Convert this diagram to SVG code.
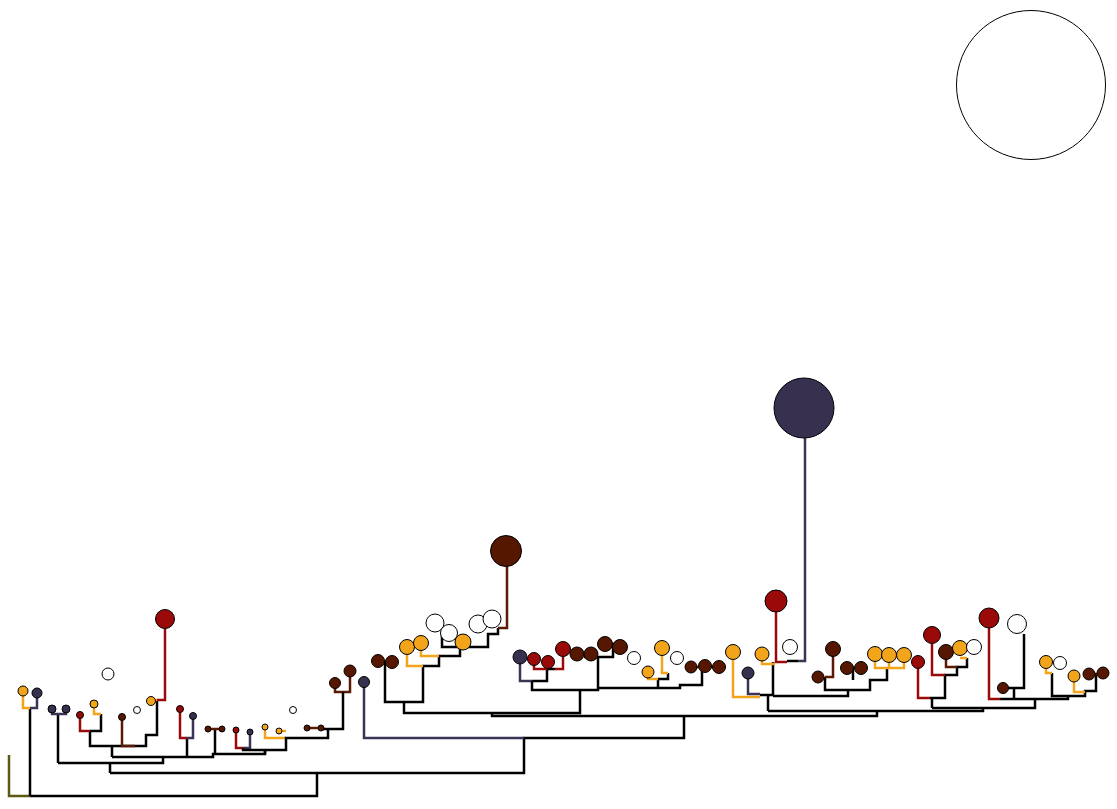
<svg xmlns="http://www.w3.org/2000/svg" width="1117" height="809" viewBox="0 0 1117 809">
<style>
.k{fill:none;stroke:#000;stroke-width:2.5}
.o{fill:none;stroke:#f2a51a;stroke-width:2.5}
.n{fill:none;stroke:#3b3454;stroke-width:2.5}
.r{fill:none;stroke:#990a08;stroke-width:2.5}
.b{fill:none;stroke:#5a1a05;stroke-width:2.5}
.v{fill:none;stroke:#5c5a12;stroke-width:2.5}
circle{stroke:#000;stroke-width:1}
.co{fill:#f2a51a}.cn{fill:#37304f}.cr{fill:#990a08}.cb{fill:#561700}.cw{fill:#fff}
</style>
<rect width="1117" height="809" fill="#fff"/>
<g id="connectors">
<path class="v" d="M9,755V796H30"/>
<path class="k" d="M30,796H317V773M30,796V708M110,773H524V738H684V716M110,773V763M58,763H163V757M58,714V763"/>
<path class="o" d="M23,691V708H30"/>
<path class="n" d="M37,693V708H30M52,709V714H66V709"/>
<path class="k" d="M112,757H213V754H265V750M187,738V757M215,729V754M112,746V757M90,731V746H146V735H157V700M90,731H101V714"/>
<path class="r" d="M80,715V731H90M157,700H165V628M180,709V738H187M236,730V748H243"/>
<path class="o" d="M94,704V714H101M151,700H157M265,727V738H286M279,731H286"/>
<path class="b" d="M122,717V746H135M208,729H222M307,728H321M335,683V692H350V671M378,662H392"/>
<path class="n" d="M193,716V738H187M250,732V748H243M364,682V738H524"/>
<path class="k" d="M243,748V750H286V738H328V729M321,729H343V692M265,750V754"/>
<path class="k" d="M385,662V702H423V666H439V656H460V647M404,702V713H580V690M442,633V647H488V634H498V628M492,713V716H877V711"/>
<path class="o" d="M407,647V666H423M421,643V656H439"/>
<path class="b" d="M498,628H507V566"/>
<path class="n" d="M520,657V681H532"/>
<path class="k" d="M532,681H547V669H555M532,681V690H598V657H613V645M584,657H598M598,688H680V685H702V667M658,679V688M668,673V679H658"/>
<path class="r" d="M534,659V669H547M555,669H563V649"/>
<path class="b" d="M577,654H591M605,644H620M691,667H719"/>
<path class="o" d="M648,672V679H658M662,648V673H668"/>
<path class="k" d="M768,711H983V708M768,711V695M760,695H773M773,696V662M773,696H848V690M787,661H798M825,677V690H870V680H887V668M853,668V680"/>
<path class="o" d="M733,652V697H760M762,654V664H775M875,654V668H904V655M889,655V668"/>
<path class="n" d="M748,673V694H760M798,661H805V438"/>
<path class="r" d="M776,612V662H787"/>
<path class="b" d="M833,649V677H825M847,668H861"/>
<path class="k" d="M932,708H1035V699M932,708V698M930,698H945V675H957V667H967V658M1000,699H1068V696M1014,699V688M1003,688H1024V634M1052,673V696H1085V691H1096V673"/>
<path class="r" d="M918,662V698H930M932,635V675H945M989,628V699H1000"/>
<path class="b" d="M946,652V667H957M1089,674H1103"/>
<path class="o" d="M960,658H967M1046,668V673H1052M1074,682V692H1085"/>
</g>
<g id="legend"><circle cx="1031" cy="85" r="74.5" class="cw" stroke-width="1"/></g>
<g id="n1"><circle cx="23" cy="691" r="5" class="co"/></g>
<g id="n2"><circle cx="37" cy="693" r="5" class="cn"/></g>
<g id="n3"><circle cx="52" cy="709" r="4" class="cn"/></g>
<g id="n4"><circle cx="66" cy="709" r="4" class="cn"/></g>
<g id="n5"><circle cx="80" cy="715" r="3.5" class="cr"/></g>
<g id="n6"><circle cx="94" cy="704" r="4" class="co"/></g>
<g id="n7"><circle cx="108" cy="674" r="6" class="cw"/></g>
<g id="n8"><circle cx="122" cy="717" r="3.5" class="cb"/></g>
<g id="n9"><circle cx="137" cy="710" r="3.5" class="cw"/></g>
<g id="n10"><circle cx="151" cy="701" r="4.5" class="co"/></g>
<g id="n11"><circle cx="165" cy="619" r="9.5" class="cr"/></g>
<g id="n12"><circle cx="180" cy="709" r="3.5" class="cr"/></g>
<g id="n13"><circle cx="193" cy="716" r="3.5" class="cn"/></g>
<g id="n14"><circle cx="208" cy="729" r="3" class="cb"/></g>
<g id="n15"><circle cx="222" cy="729" r="3" class="cb"/></g>
<g id="n16"><circle cx="236" cy="730" r="3" class="cr"/></g>
<g id="n17"><circle cx="250" cy="732" r="3" class="cn"/></g>
<g id="n18"><circle cx="265" cy="727" r="3" class="co"/></g>
<g id="n19"><circle cx="279" cy="731" r="3" class="co"/></g>
<g id="n20"><circle cx="293" cy="710" r="3.5" class="cw"/></g>
<g id="n21"><circle cx="307" cy="728" r="3" class="cb"/></g>
<g id="n22"><circle cx="321" cy="728" r="3" class="cb"/></g>
<g id="n23"><circle cx="335" cy="683" r="5.5" class="cb"/></g>
<g id="n24"><circle cx="350" cy="671" r="6" class="cb"/></g>
<g id="n25"><circle cx="364" cy="682" r="5.5" class="cn"/></g>
<g id="n26"><circle cx="378" cy="661" r="6.5" class="cb"/></g>
<g id="n27"><circle cx="392" cy="662" r="6.5" class="cb"/></g>
<g id="n28"><circle cx="407" cy="647" r="7.5" class="co"/></g>
<g id="n29"><circle cx="421" cy="643" r="7.5" class="co"/></g>
<g id="n30"><circle cx="435" cy="623" r="9" class="cw"/></g>
<g id="n31"><circle cx="449" cy="633" r="8.5" class="cw"/></g>
<g id="n32"><circle cx="463" cy="642" r="8" class="co"/></g>
<g id="n33"><circle cx="478" cy="624" r="9" class="cw"/></g>
<g id="n34"><circle cx="492" cy="619" r="9" class="cw"/></g>
<g id="n35"><circle cx="506" cy="551" r="15.5" class="cb"/></g>
<g id="n36"><circle cx="520" cy="657" r="7" class="cn"/></g>
<g id="n37"><circle cx="534" cy="659" r="6.5" class="cr"/></g>
<g id="n38"><circle cx="548" cy="662" r="6.5" class="cr"/></g>
<g id="n39"><circle cx="563" cy="649" r="7.5" class="cr"/></g>
<g id="n40"><circle cx="577" cy="654" r="7" class="cb"/></g>
<g id="n41"><circle cx="591" cy="654" r="7" class="cb"/></g>
<g id="n42"><circle cx="605" cy="644" r="7.5" class="cb"/></g>
<g id="n43"><circle cx="620" cy="647" r="7.5" class="cb"/></g>
<g id="n44"><circle cx="634" cy="658" r="6.5" class="cw"/></g>
<g id="n45"><circle cx="648" cy="672" r="6" class="co"/></g>
<g id="n46"><circle cx="662" cy="648" r="7.5" class="co"/></g>
<g id="n47"><circle cx="677" cy="658" r="6.5" class="cw"/></g>
<g id="n48"><circle cx="691" cy="667" r="6" class="cb"/></g>
<g id="n49"><circle cx="705" cy="666" r="6.5" class="cb"/></g>
<g id="n50"><circle cx="719" cy="667" r="6.5" class="cb"/></g>
<g id="n51"><circle cx="733" cy="652" r="7.5" class="co"/></g>
<g id="n52"><circle cx="748" cy="673" r="6" class="cn"/></g>
<g id="n53"><circle cx="762" cy="654" r="7" class="co"/></g>
<g id="n54"><circle cx="776" cy="601" r="11" class="cr"/></g>
<g id="n55"><circle cx="790" cy="647" r="7.5" class="cw"/></g>
<g id="n56"><circle cx="804" cy="408" r="30" class="cn"/></g>
<g id="n57"><circle cx="818" cy="677" r="6" class="cb"/></g>
<g id="n58"><circle cx="833" cy="649" r="7.5" class="cb"/></g>
<g id="n59"><circle cx="847" cy="668" r="6.5" class="cb"/></g>
<g id="n60"><circle cx="861" cy="668" r="6.5" class="cb"/></g>
<g id="n61"><circle cx="875" cy="654" r="7.5" class="co"/></g>
<g id="n62"><circle cx="889" cy="655" r="7.5" class="co"/></g>
<g id="n63"><circle cx="904" cy="655" r="7.5" class="co"/></g>
<g id="n64"><circle cx="918" cy="662" r="6.5" class="cr"/></g>
<g id="n65"><circle cx="932" cy="635" r="8.5" class="cr"/></g>
<g id="n66"><circle cx="946" cy="652" r="7.5" class="cb"/></g>
<g id="n67"><circle cx="960" cy="648" r="7.5" class="co"/></g>
<g id="n68"><circle cx="974" cy="647" r="7.5" class="cw"/></g>
<g id="n69"><circle cx="989" cy="618" r="10" class="cr"/></g>
<g id="n70"><circle cx="1003" cy="688" r="5.5" class="cb"/></g>
<g id="n71"><circle cx="1017" cy="624" r="9.5" class="cw"/></g>
<g id="n72"><circle cx="1046" cy="662" r="6.5" class="co"/></g>
<g id="n73"><circle cx="1060" cy="663" r="6.5" class="cw"/></g>
<g id="n74"><circle cx="1074" cy="676" r="6" class="co"/></g>
<g id="n75"><circle cx="1089" cy="674" r="6" class="cb"/></g>
<g id="n76"><circle cx="1103" cy="673" r="6" class="cb"/></g>
</svg>
